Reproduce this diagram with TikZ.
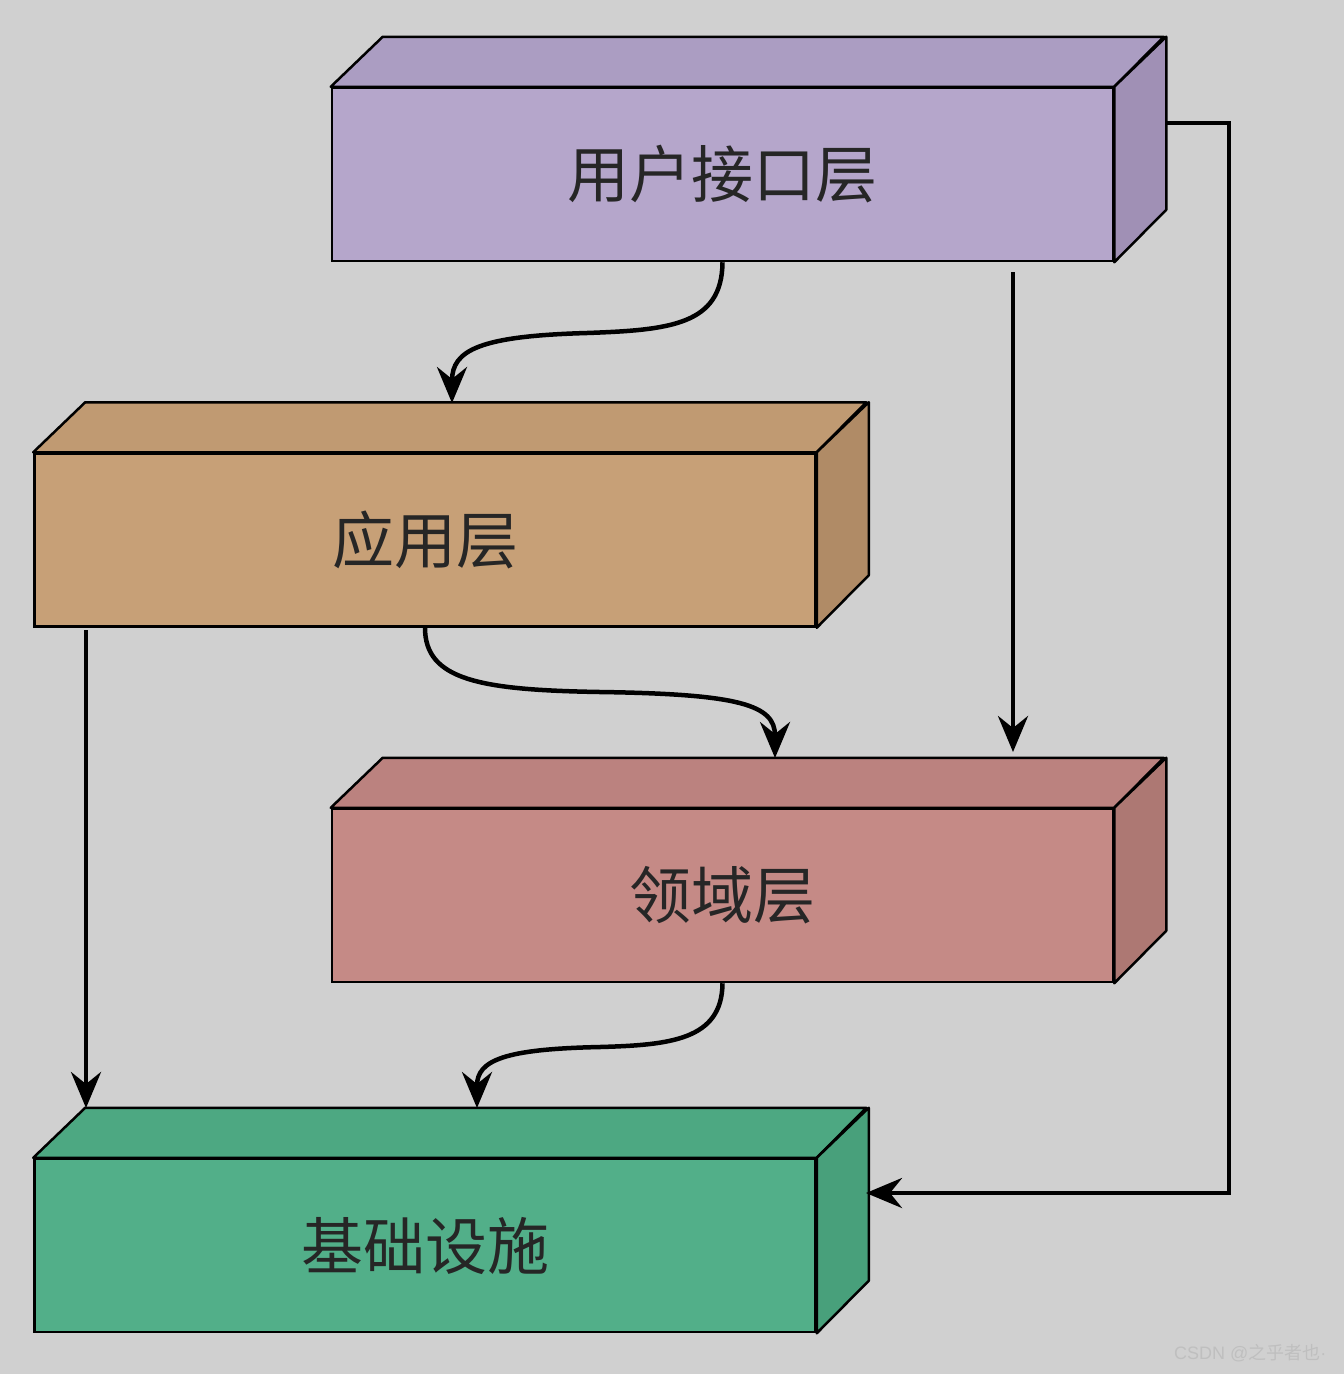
\documentclass[tikz,border=0pt]{standalone}
\usepackage{fontspec}
\newfontfamily\cjk{Noto Sans CJK SC}
\usetikzlibrary{arrows.meta}
\definecolor{bg}{HTML}{D0D0D0}
\definecolor{uf}{HTML}{B5A6CB}\definecolor{ut}{HTML}{AB9DC2}\definecolor{us}{HTML}{A090B5}
\definecolor{af}{HTML}{C7A077}\definecolor{at}{HTML}{C09A72}\definecolor{as}{HTML}{B08B66}
\definecolor{df}{HTML}{C58A86}\definecolor{dt}{HTML}{BB827F}\definecolor{ds}{HTML}{AD7873}
\definecolor{if}{HTML}{52AF89}\definecolor{it}{HTML}{4DA882}\definecolor{is}{HTML}{48A07B}
\tikzset{
 front/.style={draw, line width=2.5pt, minimum width=781pt, minimum height=173pt, inner sep=0pt, font=\cjk\fontsize{62}{62}\selectfont, text=black!85},
 face/.style={draw, line width=2.5pt, line join=round},
 arr/.style={line width=4.5pt, -{Stealth[length=36pt,width=30pt,inset=12pt]}}
}
\newcommand{\myfaces}[2]{%
  \filldraw[fill=#2t,face] (#1.north west) -- ++(52,-50) -- ++(781,0) -- (#1.north east) -- cycle;
  \filldraw[fill=#2s,face] (#1.north east) -- ++(52,-50) -- ++(0,173) -- (#1.south east) -- cycle;
}
\begin{document}
\begin{tikzpicture}[x=1pt,y=-1pt]
\fill[bg] (0,0) rectangle (1344,1374);
\useasboundingbox (0,0) rectangle (1344,1374);
\node[front, fill=uf] (u) at (722.5,174.5) {用户接口层};
\node[front, fill=af] (a) at (425,540) {应用层};
\node[front, fill=df] (d) at (722.5,895.5) {领域层};
\node[front, fill=if] (i) at (425,1245.5) {基础设施};
\myfaces{u}{u}\myfaces{a}{a}\myfaces{d}{d}\myfaces{i}{i}
\coordinate (at) at (452,403);
\coordinate (dt) at (775,758);
\coordinate (it) at (477,1108);
\draw[arr] (u.south) .. controls (722,325) and (670,330) .. (587,333) .. controls (480,336) and (452,350) .. (at);
\draw[arr] (a.south) .. controls (425,680) and (480,690) .. (600,692) .. controls (740,694) and (775,705) .. (dt);
\draw[arr] (d.south) .. controls (722,1040) and (670,1045) .. (600,1047) .. controls (505,1049) and (477,1060) .. (it);
\coordinate (u2) at (1013,272);
\coordinate (d2) at (1013,752);
\draw[arr] (u2) -- (d2);
\coordinate (a2) at (86,630);
\coordinate (i2) at (86,1108);
\draw[arr] (a2) -- (i2);
\coordinate (us) at (1166,123);
\coordinate (is) at (866,1193);
\draw[arr] (us) -- (1229,123) -- (1229,1193) -- (is);
\node[anchor=south east, font=\fontspec{Liberation Sans}\fontsize{18}{18}\selectfont, text=white!75!black] (wm) at (1330,1366) {CSDN @{\cjk 之乎者也}·};
\end{tikzpicture}
\end{document}
